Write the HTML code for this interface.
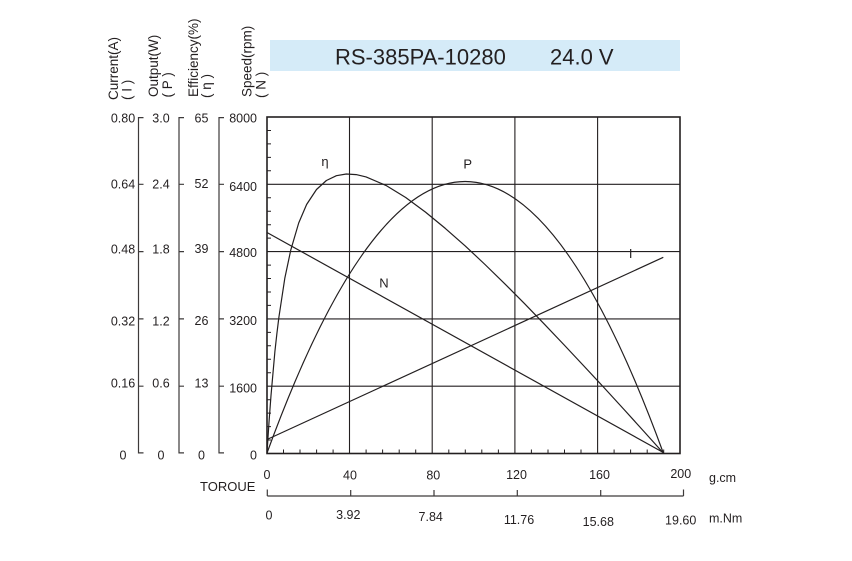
<!DOCTYPE html>
<html>
<head>
<meta charset="utf-8">
<style>
  html,body{margin:0;padding:0;background:#ffffff;}
  svg{display:block;}
  text{font-family:"Liberation Sans",Arial,sans-serif;fill:#231f20;}
</style>
</head>
<body>
<svg width="852" height="561" viewBox="0 0 852 561" xmlns="http://www.w3.org/2000/svg">
  <rect x="0" y="0" width="852" height="561" fill="#ffffff"/>

  <!-- Title banner -->
  <rect x="270" y="40" width="410" height="31" fill="#d5ebf8"/>
  <text x="335" y="64.5" font-size="22">RS-385PA-10280</text>
  <text x="550" y="64.5" font-size="22">24.0 V</text>

  <!-- Rotated axis titles -->
  <g font-size="13.5">
    <text transform="translate(118,100) rotate(-90)">Current(A)</text>
    <text transform="translate(131.5,100) rotate(-90)">( I )</text>
    <text transform="translate(158,97) rotate(-90)">Output(W)</text>
    <text transform="translate(172,97.5) rotate(-90)">( P )</text>
    <text transform="translate(198,97) rotate(-90)">Efficiency(%)</text>
    <text transform="translate(211,98) rotate(-90)">( η )</text>
    <text transform="translate(251.5,97) rotate(-90)">Speed(rpm)</text>
    <text transform="translate(265.5,98) rotate(-90)">( N )</text>
  </g>

  <!-- Left auxiliary axes -->
  <g stroke="#3d3a3a" stroke-width="1.2" fill="none">
    <line x1="138.5" y1="117" x2="138.5" y2="453.5"/>
    <line x1="179" y1="117" x2="179" y2="453.5"/>
    <line x1="219" y1="117" x2="219" y2="453.5"/>
    <path d="M138.5 117.6h5 M138.5 184.3h5 M138.5 251.6h5 M138.5 318.9h5 M138.5 386.2h5 M138.5 452.9h5"/>
    <path d="M179 117.6h5 M179 184.3h5 M179 251.6h5 M179 318.9h5 M179 386.2h5 M179 452.9h5"/>
    <path d="M219 117.6h5 M219 184.3h5 M219 251.6h5 M219 318.9h5 M219 386.2h5 M219 452.9h5"/>
  </g>

  <!-- Left tick labels -->
  <g font-size="12.5" text-anchor="middle">
    <text x="123" y="122.5">0.80</text>
    <text x="123" y="188.5">0.64</text>
    <text x="123" y="253.5">0.48</text>
    <text x="123" y="325.5">0.32</text>
    <text x="123" y="387.5">0.16</text>
    <text x="123" y="459.5">0</text>

    <text x="161" y="122.5">3.0</text>
    <text x="161" y="188.5">2.4</text>
    <text x="161" y="253.5">1.8</text>
    <text x="161" y="325.5">1.2</text>
    <text x="161" y="387.5">0.6</text>
    <text x="161" y="459.5">0</text>

    <text x="201.5" y="122.5">65</text>
    <text x="201.5" y="188">52</text>
    <text x="201.5" y="253">39</text>
    <text x="201.5" y="325">26</text>
    <text x="201.5" y="387.5">13</text>
    <text x="201.5" y="459.5">0</text>
  </g>
  <g font-size="12.5" text-anchor="end">
    <text x="257" y="122.5">8000</text>
    <text x="257" y="191">6400</text>
    <text x="257" y="257">4800</text>
    <text x="257" y="325">3200</text>
    <text x="257" y="392.5">1600</text>
    <text x="257" y="459.5">0</text>
  </g>

  <!-- Grid -->
  <g stroke="#231f20" stroke-width="1.1" fill="none">
    <line x1="349.5" y1="117" x2="349.5" y2="453.5"/>
    <line x1="432.2" y1="117" x2="432.2" y2="453.5"/>
    <line x1="514.9" y1="117" x2="514.9" y2="453.5"/>
    <line x1="597.6" y1="117" x2="597.6" y2="453.5"/>
    <line x1="267" y1="184.3" x2="680" y2="184.3"/>
    <line x1="267" y1="251.6" x2="680" y2="251.6"/>
    <line x1="267" y1="318.9" x2="680" y2="318.9"/>
    <line x1="267" y1="386.2" x2="680" y2="386.2"/>
  </g>

  <!-- Minor ticks -->
  <g stroke="#231f20" stroke-width="1" fill="none">
    <path d="M267 130.5h4 M267 143.9h4 M267 157.4h4 M267 170.8h4
             M267 197.8h4 M267 211.2h4 M267 224.7h4 M267 238.1h4
             M267 265.1h4 M267 278.5h4 M267 292h4 M267 305.4h4
             M267 332.4h4 M267 345.8h4 M267 359.3h4 M267 372.7h4
             M267 399.7h4 M267 413.1h4 M267 426.6h4 M267 440h4"/>
    <path d="M283.5 453.5v-4 M300 453.5v-4 M316.6 453.5v-4 M333.1 453.5v-4
             M366.1 453.5v-4 M382.6 453.5v-4 M399.2 453.5v-4 M415.7 453.5v-4
             M448.8 453.5v-4 M465.3 453.5v-4 M481.8 453.5v-4 M498.4 453.5v-4
             M531.4 453.5v-4 M548 453.5v-4 M564.5 453.5v-4 M581 453.5v-4
             M614.1 453.5v-4 M630.6 453.5v-4 M647.2 453.5v-4 M663.7 453.5v-4"/>
  </g>

  <!-- Frame -->
  <rect x="267" y="117" width="413" height="336.5" fill="none" stroke="#231f20" stroke-width="1.6"/>

  <!-- Curves -->
  <g stroke="#231f20" stroke-width="1.2" fill="none" stroke-linejoin="round">
    <!-- N -->
    <line x1="267" y1="232.5" x2="663.3" y2="452.5"/>
    <!-- I -->
    <line x1="267" y1="439.5" x2="663.3" y2="257.3"/>
    <!-- P -->
    <path d="M267 453 Q465.15 -90 663.3 453"/>
    <!-- eta -->
    <polyline points="267,453 269,422.2 271,395.5 274.9,351.5 276.9,333.4 278.9,317.2 284.8,278.3 290.8,249.9 298.7,223 306.6,204.5 316.5,189.5 326.4,180.5 336.4,175.7 346.3,174 356.2,174.6 366.1,176.9 385.9,185.4 405.7,197.5 425.5,212.1 445.3,228.4 465.2,245.9 485,264.5 504.8,283.8 524.6,303.7 544.4,324.2 564.2,345 584,366.1 603.9,387.5 623.7,409.1 643.5,431 663.3,453"/>
  </g>

  <!-- Curve labels -->
  <g font-size="13" text-anchor="middle">
    <text x="325" y="166">η</text>
    <text x="467.7" y="168.5">P</text>
    <text x="384" y="287.5">N</text>
    <text x="630.7" y="258">I</text>
  </g>

  <!-- Torque axis labels (g.cm) -->
  <g font-size="12.5" text-anchor="middle">
    <text x="267" y="479">0</text>
    <text x="350" y="479.5">40</text>
    <text x="433.3" y="479.5">80</text>
    <text x="516.5" y="479">120</text>
    <text x="599.5" y="479">160</text>
    <text x="680.8" y="478">200</text>
  </g>
  <text x="709" y="482" font-size="12.5">g.cm</text>
  <text x="200" y="491" font-size="13">TOROUE</text>

  <!-- Second torque axis (m.Nm) -->
  <g stroke="#3d3a3a" stroke-width="1.2" fill="none">
    <line x1="267.3" y1="496" x2="683.5" y2="496"/>
    <path d="M267.3 496v-6.5 M350.7 496v-6 M434 496v-6 M517.3 496v-6 M600.7 496v-6 M683.5 496v-6.5"/>
  </g>
  <g font-size="12.5" text-anchor="middle">
    <text x="269" y="519.5">0</text>
    <text x="348.3" y="518.8">3.92</text>
    <text x="430.7" y="521.2">7.84</text>
    <text x="519" y="523.8">11.76</text>
    <text x="598.3" y="526.2">15.68</text>
    <text x="680.7" y="524.5">19.60</text>
  </g>
  <text x="709" y="522.5" font-size="12.5">m.Nm</text>
</svg>
</body>
</html>
